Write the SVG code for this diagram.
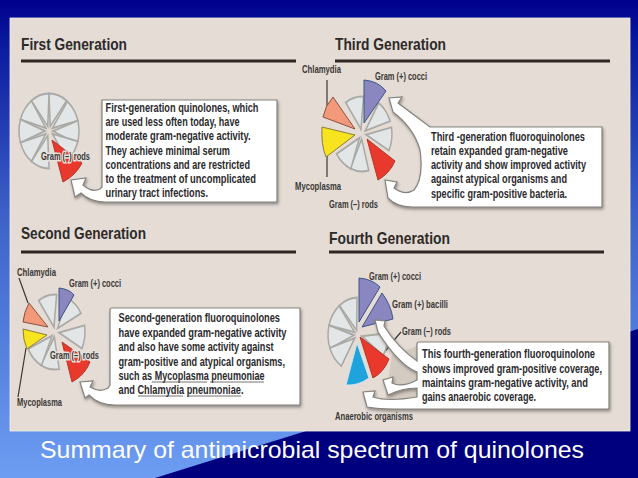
<svg xmlns="http://www.w3.org/2000/svg" width="638" height="478" viewBox="0 0 638 478">
<style>
.h{font:bold 17px "Liberation Sans",Arial,sans-serif;fill:#2e2a2a}
.t{font:bold 12.500px "Liberation Sans",Arial,sans-serif;fill:#2b2a2d}
.l{font:bold 10px "Liberation Sans",Arial,sans-serif;fill:#3b3836}
.halo{paint-order:stroke;stroke:#e6e3de;stroke-width:3}
.rule{fill:none;stroke:#2f2723;stroke-width:3}
.lead{fill:none;stroke:#3b3533;stroke-width:1.2}
.ul{fill:none;stroke:#55524f;stroke-width:.8}
.call{fill:#fff;stroke:#85827e;stroke-width:1.2;filter:url(#sh)}
.lw{fill:#e3e6e6;stroke:#a9a9a5;stroke-width:1.5}
.red{fill:#e8392c;stroke:#b5352a;stroke-width:1}
.pur{fill:#8a86c0;stroke:#3b5686;stroke-width:1}
.ora{fill:#f2997a;stroke:#8a5240;stroke-width:1}
.yel{fill:#f8e31f;stroke:#8c7d3a;stroke-width:1}
.blu{fill:#1ea3dc;stroke:#cfe4ee;stroke-width:1}
</style>
<defs>
<linearGradient id="bg" x1="0" y1="0" x2="0" y2="1">
<stop offset="0" stop-color="#00008c"/><stop offset=".09" stop-color="#0a1a9e"/><stop offset=".45" stop-color="#3c62c8"/><stop offset="1" stop-color="#6d9df3"/>
</linearGradient>
<filter id="sh" x="-10%" y="-10%" width="125%" height="125%"><feDropShadow dx="1" dy="2" stdDeviation="1.6" flood-color="#5a5550" flood-opacity=".6"/></filter>
<path id="w" d="M0,-4 L-9.3,-28.5 A30,30 0 0 1 9.3,-28.5 Z"/>
</defs>
<rect width="638" height="478" fill="url(#bg)"/>
<path d="M155,478 L303,432 L638,329 V478 Z" fill="#00007e"/>
<rect x="10" y="18" width="620" height="413" fill="#e4dcd5" stroke="#f2efe9" stroke-width=".8"/>

<g id="connectors">
<path class="lead" d="M327,80 V107"/><path class="lead" d="M327,155 V177"/>
<path class="lead" d="M19,278 L28,303"/><path class="lead" d="M18,397 L26,348"/>
<path class="lead" d="M401,332 Q394,340 384,353"/>
</g>

<g id="first-generation">
<text class="h" x="21" y="50" textLength="106" lengthAdjust="spacingAndGlyphs">First Generation</text>
<path class="rule" d="M21,61 H296"/>
<g transform="translate(49,131) scale(1,1.25)" class="lw">
<use href="#w" transform="rotate(18)"/><use href="#w" transform="rotate(56)"/><use href="#w" transform="rotate(92)"/><use href="#w" transform="rotate(124)"/><use href="#w" transform="rotate(198)"/><use href="#w" transform="rotate(234)"/><use href="#w" transform="rotate(270)"/><use href="#w" transform="rotate(306)"/><use href="#w" transform="rotate(342)"/>
</g>
<path class="red" d="M52,140 L82,163 Q76,175 63,182 Z"/>
<text class="l halo" x="41" y="160" textLength="49" lengthAdjust="spacingAndGlyphs">Gram (–) rods</text>
<path class="call" d="M102,100 H277 V202 H105 Q90,202 81,193 L75,197 L71,180 L86,178 L83,185 Q92,193 100,189 L102,187 Z"/>
<text class="t" x="105.500" y="112" textLength="153" lengthAdjust="spacingAndGlyphs">First-generation quinolones, which</text>
<text class="t" x="105.500" y="126" textLength="134" lengthAdjust="spacingAndGlyphs">are used less often today, have</text>
<text class="t" x="105.500" y="140.300" textLength="145" lengthAdjust="spacingAndGlyphs">moderate gram-negative activity.</text>
<text class="t" x="105.500" y="154.500" textLength="124.500" lengthAdjust="spacingAndGlyphs">They achieve minimal serum</text>
<text class="t" x="105.500" y="168.700" textLength="144.500" lengthAdjust="spacingAndGlyphs">concentrations and are restricted</text>
<text class="t" x="105.500" y="182.800" textLength="150.500" lengthAdjust="spacingAndGlyphs">to the treatment of uncomplicated</text>
<text class="t" x="105.500" y="197" textLength="102.500" lengthAdjust="spacingAndGlyphs">urinary tract infections.</text>
</g>

<g id="third-generation">
<text class="h" x="335" y="50" textLength="111" lengthAdjust="spacingAndGlyphs">Third Generation</text>
<path class="rule" d="M335,61 H610"/>
<g transform="translate(362,134) scale(1,1.25)" class="lw">
<use href="#w" transform="rotate(345)"/><use href="#w" transform="rotate(52)"/><use href="#w" transform="rotate(98)"/><use href="#w" transform="rotate(185)"/><use href="#w" transform="rotate(220)"/>
</g>
<path class="pur" d="M364,123 V80 Q378,81 386,91 Z"/>
<path class="ora" d="M355,129 L333,97 Q325,106 323,117 Z"/>
<path class="yel" d="M355,135 L322,127 Q321,145 326,157 Z"/>
<path class="red" d="M367,139 L395,161 Q390,173 378,180 Z"/>
<text class="l" x="302" y="73" textLength="39" lengthAdjust="spacingAndGlyphs">Chlamydia</text>
<text class="l" x="375" y="80" textLength="52" lengthAdjust="spacingAndGlyphs">Gram (+) cocci</text>
<text class="l" x="295" y="190" textLength="46" lengthAdjust="spacingAndGlyphs">Mycoplasma</text>
<text class="l" x="329" y="208" textLength="49" lengthAdjust="spacingAndGlyphs">Gram (–) rods</text>
<path class="call" d="M430,127 H602 V207 H412 Q396,207 388,198 L385,180 L397,182 L394,188 Q405,196 414,190 Q424,178 420,150 Q414,128 393,112 L389,98 L402,97 L398,103 Z"/>
<text class="t" transform="translate(431 141) scale(.74 1)" textLength="208.100" lengthAdjust="spacingAndGlyphs">Third -generation fluoroquinolones</text>
<text class="t" transform="translate(431 155) scale(.74 1)" textLength="185.100" lengthAdjust="spacingAndGlyphs">retain expanded gram-negative</text>
<text class="t" transform="translate(431 169) scale(.74 1)" textLength="209.500" lengthAdjust="spacingAndGlyphs">activity and show improved activity</text>
<text class="t" transform="translate(431 183.300) scale(.74 1)" textLength="183.800" lengthAdjust="spacingAndGlyphs">against atypical organisms and</text>
<text class="t" transform="translate(431 197.700) scale(.74 1)" textLength="183.800" lengthAdjust="spacingAndGlyphs">specific gram-positive bacteria.</text>
</g>

<g id="second-generation">
<text class="h" x="21" y="239" textLength="125" lengthAdjust="spacingAndGlyphs">Second Generation</text>
<path class="rule" d="M21,252 H296"/>
<g transform="translate(55,332) scale(1,1.25)" class="lw">
<use href="#w" transform="rotate(345)"/><use href="#w" transform="rotate(42)"/><use href="#w" transform="rotate(98)"/><use href="#w" transform="rotate(190)"/><use href="#w" transform="rotate(225)"/>
</g>
<path class="pur" d="M59,321 V288 Q69,289 74,295 Z"/>
<path class="ora" d="M48,327 L29,303 Q24,312 23,322 Z"/>
<path class="yel" d="M47,335 L23,329 Q23,340 27,349 Z"/>
<path class="red" d="M62,342 L90,362 Q85,375 72,382 Z"/>
<text class="l" x="17" y="276" textLength="39" lengthAdjust="spacingAndGlyphs">Chlamydia</text>
<text class="l" x="69" y="287" textLength="52" lengthAdjust="spacingAndGlyphs">Gram (+) cocci</text>
<text class="l" x="17" y="406" textLength="45" lengthAdjust="spacingAndGlyphs">Mycoplasma</text>
<text class="l halo" x="50" y="359" textLength="49" lengthAdjust="spacingAndGlyphs">Gram (–) rods</text>
<path class="call" d="M112,308 H300 V405 H115 Q98,405 89,395 L85,398 L80,382 L93,381 L90,387 Q100,393 108,388 L110,385 V310 Q110,308 112,308 Z"/>
<text class="t" x="118.500" y="322.300" textLength="161.500" lengthAdjust="spacingAndGlyphs">Second-generation fluoroquinolones</text>
<text class="t" x="118.500" y="337" textLength="168" lengthAdjust="spacingAndGlyphs">have expanded gram-negative activity</text>
<text class="t" x="118.500" y="351" textLength="155" lengthAdjust="spacingAndGlyphs">and also have some activity against</text>
<text class="t" x="118.500" y="366" textLength="166.500" lengthAdjust="spacingAndGlyphs">gram-positive and atypical organisms,</text>
<text class="t" x="118.500" y="380" textLength="146" lengthAdjust="spacingAndGlyphs">such as Mycoplasma pneumoniae</text>
<text class="t" x="118.500" y="394" textLength="125" lengthAdjust="spacingAndGlyphs">and Chlamydia pneumoniae.</text>
<path class="ul" d="M152,382 H207 M210,382 H264 M138,396 H183 M187,396 H241"/>
</g>

<g id="fourth-generation">
<text class="h" x="329" y="244" textLength="121" lengthAdjust="spacingAndGlyphs">Fourth Generation</text>
<path class="rule" d="M329,252 H604"/>
<g transform="translate(358,335) scale(1,1.25)" class="lw">
<use href="#w" transform="rotate(340)"/><use href="#w" transform="rotate(303)"/><use href="#w" transform="rotate(267)"/><use href="#w" transform="rotate(232)"/><use href="#w" transform="rotate(105)"/>
</g>
<path class="pur" d="M359,322 V278 Q372,279 380,287 Z"/>
<path class="pur" d="M362,327 L382,293 Q391,305 393,319 Z"/>
<path class="blu" d="M357,343 L346,385 Q358,386 369,378 Z"/>
<path class="red" d="M360,337 L389,359 Q384,372 373,378 Z"/>
<text class="l" x="369" y="280" textLength="52" lengthAdjust="spacingAndGlyphs">Gram (+) cocci</text>
<text class="l" x="392" y="308" textLength="56" lengthAdjust="spacingAndGlyphs">Gram (+) bacilli</text>
<text class="l" x="402" y="335" textLength="49" lengthAdjust="spacingAndGlyphs">Gram (–) rods</text>
<text class="l" x="335" y="420" textLength="78" lengthAdjust="spacingAndGlyphs">Anaerobic organisms</text>
<path d="M392,355 L420,345 V408 L385,400 Z" fill="#d3cbc2"/>
<path class="call" d="M419,342 H609 V409 H394 Q378,409 367,407 L363,392 L375,391 L373,397 Q388,402 417,397 V388 Q402,388 388,395 L383,380 L393,377 L392,383 Q402,388 417,380 V372 Q399,365 378,332 L375,320 L385,321 L384,326 Q398,348 417,361 V344 Q417,342 419,342 Z"/>
<text class="t" transform="translate(422 358) scale(.74 1)" textLength="233.800" lengthAdjust="spacingAndGlyphs">This fourth-generation fluoroquinolone</text>
<text class="t" transform="translate(422 373) scale(.74 1)" textLength="243.200" lengthAdjust="spacingAndGlyphs">shows improved gram-positive coverage,</text>
<text class="t" transform="translate(422 387) scale(.74 1)" textLength="224.300" lengthAdjust="spacingAndGlyphs">maintains gram-negative activity, and</text>
<text class="t" transform="translate(422 401) scale(.74 1)" textLength="154.100" lengthAdjust="spacingAndGlyphs">gains anaerobic coverage.</text>
</g>

<text x="40" y="458" font-family="'Liberation Sans',Arial,sans-serif" font-size="24" fill="#fff" textLength="544" lengthAdjust="spacingAndGlyphs">Summary of antimicrobial spectrum of quinolones</text>
</svg>
